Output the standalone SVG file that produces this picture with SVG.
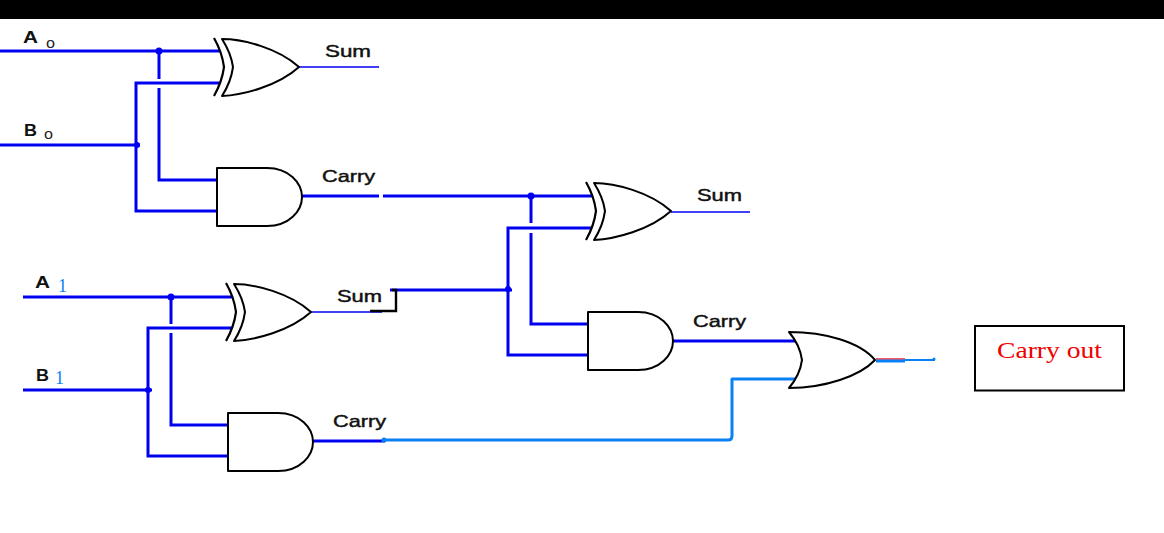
<svg xmlns="http://www.w3.org/2000/svg" width="1164" height="533" viewBox="0 0 1164 533">
<style>
.g{fill:#fff;stroke:#000;stroke-width:2;stroke-linejoin:round}
.o{fill:none;stroke:#000;stroke-width:2.2}
.w{fill:none;stroke:#0000f0;stroke-width:3}
.t{fill:none;stroke:#0000f0;stroke-width:1.6}
.c{fill:none;stroke:#0a80f5;stroke-width:3;stroke-linejoin:round}
.d{fill:#0000f0}
.l{font-family:"Liberation Sans",Arial,sans-serif;font-size:17px;fill:#111;stroke:#111;stroke-width:.45}
.b{font-family:"Liberation Sans",Arial,sans-serif;font-size:17px;font-weight:bold;fill:#111}
.s{font-family:"Liberation Sans",Arial,sans-serif;font-size:14px;fill:#222}
.n{font-family:"Liberation Serif","Times New Roman",serif;font-size:18px;fill:#0a80f5}
</style>
<defs>
<g id="xor"><path class="o" d="M1 0Q9 14 11 29Q9 44 1 58"/><path class="g" d="M9 1C30 1 65 10 86 29C65 48 30 57 9 58Q18 44 20 29Q18 15 9 1Z"/></g>
<g id="and"><path class="g" d="M0 0H50C72 0 85 15 85 29C85 43 72 58 50 58H0Z"/></g>
</defs>
<rect width="1164" height="533" fill="#fff"/>
<rect id="topbar" width="1164" height="19" fill="#000"/>
<g id="connectors">
<path class="w" d="M0 51H220M159 51V79M159 88V180H217"/>
<path class="w" d="M220 83H136V211H217M0 145H140"/>
<path class="t" d="M299 67H379"/>
<path class="w" d="M302 196H379M383 196H592M531 196V223M531 233V324H588"/>
<path class="w" d="M592 228H508V355H588M390 290H512"/>
<path class="t" d="M671 212H750"/>
<path class="w" d="M23 297H232M171 297V324M171 333V425H228"/>
<path class="w" d="M232 328H148V456H228M23 390H152"/>
<path class="t" d="M311 312H382"/>
<path d="M370 311H396V290H392" fill="none" stroke="#000" stroke-width="2.4"/>
<path class="w" d="M313 441H385M673 341H795"/>
<path class="c" d="M382 440H728Q732 440 732 436V379H795"/>
<path d="M876 359H905" fill="none" stroke="#f02030" stroke-width="1.5"/>
<path class="c" d="M876 361H905"/>
<path d="M905 360H935" fill="none" stroke="#0a80f5" stroke-width="2"/>
<circle class="d" cx="159" cy="51" r="3.500"/>
<circle class="d" cx="137" cy="145" r="3"/>
<circle class="d" cx="531" cy="196" r="3.500"/>
<circle class="d" cx="508" cy="289" r="3"/>
<circle class="d" cx="171" cy="297" r="3.500"/>
<circle class="d" cx="148" cy="390" r="3"/>
<circle cx="384" cy="440" r="2.500" fill="#0a80f5"/>
<circle cx="934" cy="359" r="1.500" fill="#0a80f5"/>
</g>
<g id="xor1"><use href="#xor" x="213" y="38"/></g>
<g id="and1"><use href="#and" x="217" y="168"/></g>
<g id="xor2"><use href="#xor" x="585" y="182"/></g>
<g id="and2"><use href="#and" x="588" y="312"/></g>
<g id="xor3"><use href="#xor" x="225" y="283"/></g>
<g id="and3"><use href="#and" x="228" y="413"/></g>
<g id="or1"><path class="g" d="M789 332C825 332 860 342 875 360C860 376 825 388 789 388Q800 375 802 360Q800 345 789 332Z"/></g>
<g id="labels">
<text class="b" x="23" y="43" textLength="15" lengthAdjust="spacingAndGlyphs">A</text><text class="s" x="46" y="48" textLength="9" lengthAdjust="spacingAndGlyphs">o</text>
<text class="b" x="24" y="136" textLength="13" lengthAdjust="spacingAndGlyphs">B</text><text class="s" x="44" y="139" textLength="9" lengthAdjust="spacingAndGlyphs">o</text>
<text class="l" x="325" y="57" textLength="46" lengthAdjust="spacingAndGlyphs">Sum</text>
<text class="l" x="322" y="182" textLength="53" lengthAdjust="spacingAndGlyphs">Carry</text>
<text class="l" x="697" y="201" textLength="45" lengthAdjust="spacingAndGlyphs">Sum</text>
<text class="b" x="35" y="288" textLength="15" lengthAdjust="spacingAndGlyphs">A</text><text class="n" x="58" y="292">1</text>
<text class="b" x="36" y="381" textLength="13" lengthAdjust="spacingAndGlyphs">B</text><text class="n" x="55" y="384">1</text>
<text class="l" x="337" y="302" textLength="45" lengthAdjust="spacingAndGlyphs">Sum</text>
<text class="l" x="693" y="327" textLength="53" lengthAdjust="spacingAndGlyphs">Carry</text>
<text class="l" x="333" y="427" textLength="53" lengthAdjust="spacingAndGlyphs">Carry</text>
</g>
<g id="carryout">
<rect x="975" y="326" width="149" height="64.500" fill="#fff" stroke="#000" stroke-width="2"/>
<text x="997" y="358" font-family="'Liberation Serif','Times New Roman',serif" font-size="24" fill="#f00000" textLength="105" lengthAdjust="spacingAndGlyphs">Carry out</text>
</g>
</svg>
